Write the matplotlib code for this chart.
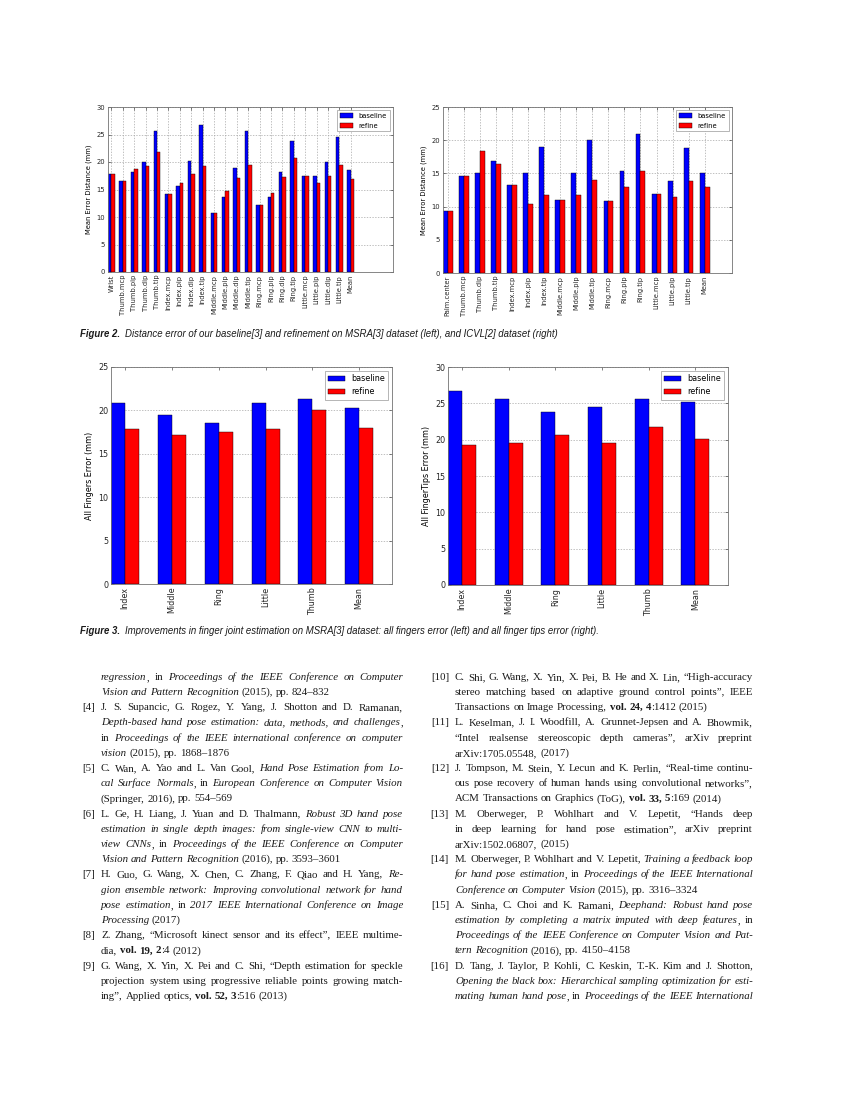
import numpy as np
import matplotlib.pyplot as plt

W, H = 850, 1100

# ==========================================
# DATA
# ==========================================
msra_joints = ['Wrist', 'Thumb.mcp', 'Thumb.pip', 'Thumb.dip', 'Thumb.tip',
               'Index.mcp', 'Index.pip', 'Index.dip', 'Index.tip',
               'Middle.mcp', 'Middle.pip', 'Middle.dip', 'Middle.tip',
               'Ring.mcp', 'Ring.pip', 'Ring.dip', 'Ring.tip',
               'Little.mcp', 'Little.pip', 'Little.dip', 'Little.tip', 'Mean']
msra_base = [17.8, 16.6, 18.1, 20.0, 25.6, 14.1, 15.7, 20.2, 26.7, 10.7, 13.7,
             19.0, 25.6, 12.1, 13.7, 18.1, 23.8, 17.5, 17.5, 20.0, 24.5, 18.6]
msra_refine = [17.8, 16.6, 18.7, 19.2, 21.8, 14.1, 16.2, 17.9, 19.2, 10.7, 14.8,
               17.1, 19.5, 12.1, 14.4, 17.3, 20.7, 17.5, 16.2, 17.5, 19.5, 17.0]

icvl_joints = ['Palm.center', 'Thumb.mcp', 'Thumb.dip', 'Thumb.tip',
               'Index.mcp', 'Index.pip', 'Index.tip',
               'Middle.mcp', 'Middle.pip', 'Middle.tip',
               'Ring.mcp', 'Ring.pip', 'Ring.tip',
               'Little.mcp', 'Little.pip', 'Little.tip', 'Mean']
icvl_base = [9.4, 14.6, 15.0, 16.9, 13.3, 15.0, 19.0, 11.0, 15.1, 20.0,
             10.9, 15.4, 21.0, 11.9, 13.9, 18.8, 15.1]
icvl_refine = [9.4, 14.6, 18.4, 16.4, 13.3, 10.4, 11.8, 11.0, 11.7, 14.0,
               10.9, 13.0, 15.3, 11.9, 11.4, 13.9, 13.0]

fingers = ['Index', 'Middle', 'Ring', 'Little', 'Thumb', 'Mean']
fingers_base = [20.9, 19.5, 18.6, 20.8, 21.3, 20.3]
fingers_refine = [17.8, 17.15, 17.5, 17.8, 20.0, 18.0]
tips_base = [26.7, 25.6, 23.8, 24.5, 25.6, 25.2]
tips_refine = [19.2, 19.5, 20.6, 19.5, 21.8, 20.1]

caption2_head = 'Figure 2.'
caption2_text = ('Distance error of our baseline[3] and refinement on MSRA[3] '
                 'dataset (left), and ICVL[2] dataset (right)')
caption3_head = 'Figure 3.'
caption3_text = ('Improvements in finger joint estimation on MSRA[3] dataset: '
                 'all fingers error (left) and all finger tips error (right).')

# _ = italico, * = negrito ; ultimo campo = entrada termina nesta coluna
refs_left = [
    ('', ['_regression_, in _Proceedings of the IEEE Conference on Computer_',
          '_Vision and Pattern Recognition_ (2015), pp. 824–832'], True),
    ('[4]', ['J. S. Supancic, G. Rogez, Y. Yang, J. Shotton and D. Ramanan,',
             '_Depth-based hand pose estimation: data, methods, and challenges_,',
             'in _Proceedings of the IEEE international conference on computer_',
             '_vision_ (2015), pp. 1868–1876'], True),
    ('[5]', ['C. Wan, A. Yao and L. Van Gool, _Hand Pose Estimation from Lo-_',
             '_cal Surface Normals_, in _European Conference on Computer Vision_',
             '(Springer, 2016), pp. 554–569'], True),
    ('[6]', ['L. Ge, H. Liang, J. Yuan and D. Thalmann, _Robust 3D hand pose_',
             '_estimation in single depth images: from single-view CNN to multi-_',
             '_view CNNs_, in _Proceedings of the IEEE Conference on Computer_',
             '_Vision and Pattern Recognition_ (2016), pp. 3593–3601'], True),
    ('[7]', ['H. Guo, G. Wang, X. Chen, C. Zhang, F. Qiao and H. Yang, _Re-_',
             '_gion ensemble network: Improving convolutional network for hand_',
             '_pose estimation_, in _2017 IEEE International Conference on Image_',
             '_Processing_ (2017)'], True),
    ('[8]', ['Z. Zhang, “Microsoft kinect sensor and its effect”, IEEE multime-',
             'dia, *vol. 19, 2*:4 (2012)'], True),
    ('[9]', ['G. Wang, X. Yin, X. Pei and C. Shi, “Depth estimation for speckle',
             'projection system using progressive reliable points growing match-',
             'ing”, Applied optics, *vol. 52, 3*:516 (2013)'], True),
]
refs_right = [
    ('[10]', ['C. Shi, G. Wang, X. Yin, X. Pei, B. He and X. Lin, “High-accuracy',
              'stereo matching based on adaptive ground control points”, IEEE',
              'Transactions on Image Processing, *vol. 24, 4*:1412 (2015)'], True),
    ('[11]', ['L. Keselman, J. I. Woodfill, A. Grunnet-Jepsen and A. Bhowmik,',
              '“Intel realsense stereoscopic depth cameras”, arXiv preprint',
              'arXiv:1705.05548, (2017)'], True),
    ('[12]', ['J. Tompson, M. Stein, Y. Lecun and K. Perlin, “Real-time continu-',
              'ous pose recovery of human hands using convolutional networks”,',
              'ACM Transactions on Graphics (ToG), *vol. 33, 5*:169 (2014)'], True),
    ('[13]', ['M. Oberweger, P. Wohlhart and V. Lepetit, “Hands deep',
              'in deep learning for hand pose estimation”, arXiv preprint',
              'arXiv:1502.06807, (2015)'], True),
    ('[14]', ['M. Oberweger, P. Wohlhart and V. Lepetit, _Training a feedback loop_',
              '_for hand pose estimation_, in _Proceedings of the IEEE International_',
              '_Conference on Computer Vision_ (2015), pp. 3316–3324'], True),
    ('[15]', ['A. Sinha, C. Choi and K. Ramani, _Deephand: Robust hand pose_',
              '_estimation by completing a matrix imputed with deep features_, in',
              '_Proceedings of the IEEE Conference on Computer Vision and Pat-_',
              '_tern Recognition_ (2016), pp. 4150–4158'], True),
    ('[16]', ['D. Tang, J. Taylor, P. Kohli, C. Keskin, T.-K. Kim and J. Shotton,',
              '_Opening the black box: Hierarchical sampling optimization for esti-_',
              '_mating human hand pose_, in _Proceedings of the IEEE International_'], False),
]

# ==========================================
# FIGURA / PAGINA
# ==========================================
fig = plt.figure(figsize=(8.5, 11), dpi=100)
page = fig.add_axes([0, 0, 1, 1], zorder=-1)
page.set_xlim(0, W)
page.set_ylim(H, 0)
page.axis('off')
renderer = fig.canvas.get_renderer()


def px_axes(x0, y0, x1, y1):
    return fig.add_axes([x0 / W, 1 - y1 / H, (x1 - x0) / W, (y1 - y0) / H])


def bar_chart(ax, labels, base, refine, ymax, xmax, ylabel, fs, vgrid=True):
    ind = np.arange(len(labels))
    width = 0.3
    ax.bar(ind, base, width, align='edge', color='b', edgecolor='k',
           linewidth=0.3, label='baseline')
    ax.bar(ind + width, refine, width, align='edge', color='r', edgecolor='k',
           linewidth=0.3, label='refine')
    ax.set_xticks(ind + width)
    ax.set_xticklabels(labels, rotation=90, fontsize=fs)
    ax.set_xlim(0, xmax)
    ax.set_ylim(0, ymax)
    ax.set_yticks(np.arange(0, ymax + 1, 5))
    ax.tick_params(labelsize=fs, direction='in', length=2.5, width=0.4,
                   top=True, right=True, pad=2, colors='0.15')
    ax.set_ylabel(ylabel, fontsize=fs, labelpad=3)
    ax.grid(True, axis='both' if vgrid else 'y', color='0.65',
            linestyle=(0, (2, 2)), linewidth=0.5)
    ax.set_axisbelow(True)
    for s in ax.spines.values():
        s.set_color('0.45')
        s.set_linewidth(0.6)
    leg = ax.legend(loc='upper right', fontsize=fs, fancybox=False,
                    framealpha=1, edgecolor='0.6', borderaxespad=0.5)
    leg.get_frame().set_linewidth(0.5)


ax1 = px_axes(108, 107, 393, 272)
bar_chart(ax1, msra_joints, msra_base, msra_refine, 30, 25,
          'Mean Error Distance (mm)', 4.9)
ax2 = px_axes(443, 107, 732, 273)
bar_chart(ax2, icvl_joints, icvl_base, icvl_refine, 25, 18,
          'Mean Error Distance (mm)', 4.9)
ax3 = px_axes(111, 367, 392, 584)
bar_chart(ax3, fingers, fingers_base, fingers_refine, 25, 6,
          'All Fingers Error (mm)', 5.8, vgrid=False)
ax4 = px_axes(448, 367, 728, 585)
bar_chart(ax4, fingers, tips_base, tips_refine, 30, 6,
          'All FingerTips Error (mm)', 5.8, vgrid=False)


# ==========================================
# TEXTO (legendas e referencias)
# ==========================================
def raw_width(s, size, family, ital, bold):
    t = page.text(0, 0, s, fontsize=size, family=family,
                  style='italic' if ital else 'normal',
                  weight='bold' if bold else 'normal')
    w = t.get_window_extent(renderer).width
    t.remove()
    return w


def piece_width(s, size, family, ital=False, bold=False):
    # largura de avanco: mede entre duas barras para ignorar o "ink bbox"
    return (raw_width('|' + s + '|', size, family, ital, bold)
            - raw_width('||', size, family, ital, bold))


def parse(line):
    words = [[]]
    buf = ''
    ital = bold = False
    for ch in line:
        if ch in '_*':
            if buf:
                words[-1].append((buf, ital, bold))
                buf = ''
            if ch == '_':
                ital = not ital
            else:
                bold = not bold
        elif ch == ' ':
            if buf:
                words[-1].append((buf, ital, bold))
                buf = ''
            words.append([])
        else:
            buf += ch
    if buf:
        words[-1].append((buf, ital, bold))
    return [w for w in words if w]


def natural_width(line, size, family):
    words = parse(line)
    sp = piece_width(' ', size, family)
    tot = sum(piece_width(p[0], size, family, p[1], p[2]) for w in words for p in w)
    return tot + sp * (len(words) - 1)


def draw_line(line, x0, x1, y, size, family, justify):
    words = parse(line)
    sp = piece_width(' ', size, family)
    widths = [[piece_width(p[0], size, family, p[1], p[2]) for p in w] for w in words]
    tot = sum(sum(w) for w in widths)
    gap = sp
    if justify and len(words) > 1:
        gap = (x1 - x0 - tot) / (len(words) - 1)
    x = x0
    for w, ws in zip(words, widths):
        for (txt, ital, bold), pw in zip(w, ws):
            page.text(x, y, txt, fontsize=size, family=family, va='baseline',
                      style='italic' if ital else 'normal',
                      weight='bold' if bold else 'normal', color='0.1')
            x += pw
        x += gap


# legendas das figuras
cap_family = 'Liberation Sans'
cap_size = 8.0 * 435 / natural_width(caption2_text, 8.0, cap_family)
for head, text, yc in [(caption2_head, caption2_text, 334),
                       (caption3_head, caption3_text, 631)]:
    page.text(80, yc + 3, head, fontsize=cap_size, family=cap_family,
              style='italic', weight='bold', va='baseline', color='0.1')
    page.text(125, yc + 3, text, fontsize=cap_size, family=cap_family,
              style='italic', va='baseline', color='0.1')

# referencias em duas colunas
ref_family = 'Liberation Serif'
ref_size = 10.0 * 229.7 / natural_width(refs_left[0][1][1], 10.0, ref_family)
line_step = 15.2
for refs, x0, x1 in [(refs_left, 101, 403), (refs_right, 455, 753)]:
    y = 676 + 3.8
    for label, lines, ends in refs:
        if label:
            page.text(x0 - 6, y, label, fontsize=ref_size, family=ref_family,
                      ha='right', va='baseline', color='0.1')
        for k, ln in enumerate(lines):
            last = (k == len(lines) - 1) and ends
            draw_line(ln, x0, x1, y, ref_size, ref_family, not last)
            y += line_step

fig.savefig('out.png', dpi=100)
